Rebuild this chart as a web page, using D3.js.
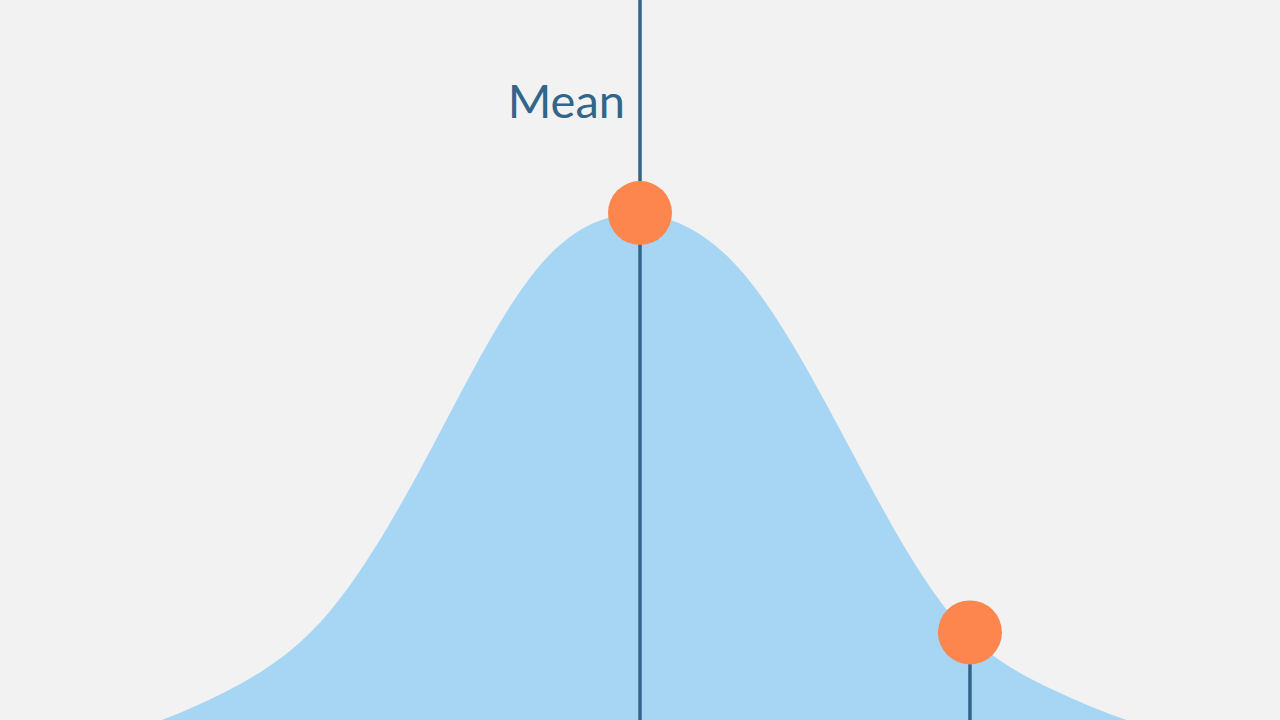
<!DOCTYPE html>
<html>
<head>
<meta charset="utf-8">
<script src="https://cdn.jsdelivr.net/npm/d3@7"></script>
<style>
  html, body { margin: 0; padding: 0; background: #f2f2f2; }
  svg { display: block; }
</style>
</head>
<body>
<svg width="1280" height="720"></svg>
<script>
// curve: z-score and density
var zs = [-3, -2.5, -2, -1.5, -1, -0.5, 0, 0.5, 1, 1.5, 2, 2.5, 3]
var dens = [0.008, 0.022, 0.052, 0.11, 0.231, 0.359, 0.399, 0.356, 0.233, 0.108, 0.053, 0.024, 0.008]

// marked points: mean at the top and one point in the right tail
var markZ = [0, 1.594]
var markD = [0.4, 0.095]
var meanLabel = 'Mean'

var svg = d3.select('svg')
var W = 1280, H = 720

var x = d3.scaleLinear().domain([-3, 3]).range([640 - 3 * 207, 640 + 3 * 207])
var y = d3.scaleLinear().domain([0, 0.4]).range([763, 213])

var pts = zs.map(function(z, i) { return [z, dens[i]] })

var area = d3.area()
    .x(function(d) { return x(d[0]) })
    .y0(y(0))
    .y1(function(d) { return y(d[1]) })
    .curve(d3.curveNatural)

svg.append('path')
    .datum(pts)
    .attr('d', area)
    .attr('fill', '#a6d6f3')

// mean line, full height
svg.append('line')
    .attr('x1', x(0)).attr('x2', x(0))
    .attr('y1', 0).attr('y2', H)
    .attr('stroke', '#33658a')
    .attr('stroke-width', 3.5)

// stem under the tail point
svg.append('line')
    .attr('x1', x(markZ[1])).attr('x2', x(markZ[1]))
    .attr('y1', y(markD[1])).attr('y2', H)
    .attr('stroke', '#33658a')
    .attr('stroke-width', 3.5)

svg.selectAll('circle')
    .data(markZ)
    .enter()
    .append('circle')
    .attr('cx', function(d) { return x(d) })
    .attr('cy', function(d, i) { return y(markD[i]) })
    .attr('r', 32)
    .attr('fill', '#fd864f')

svg.append('text')
    .attr('x', x(0) - 15)
    .attr('y', 118)
    .attr('text-anchor', 'end')
    .attr('font-family', 'Lato, "Open Sans", sans-serif')
    .attr('font-size', 47)
    .attr('fill', '#33658a')
    .text(meanLabel)
</script>
</body>
</html>
